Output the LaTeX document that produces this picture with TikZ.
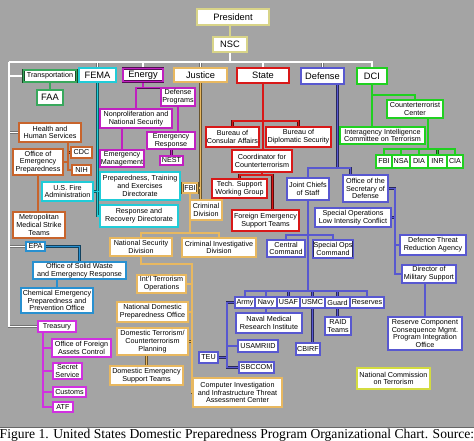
\documentclass[tikz,border=0pt]{standalone}
\usepackage{fontspec}
\setmainfont{Liberation Sans}
\newfontfamily\capfont{Liberation Serif}
\pgfdeclarelayer{paper}
\pgfdeclarelayer{wires}
\pgfsetlayers{paper,wires,main}
\newcommand\orgsmall{\fontsize{7.2}{7.8}\selectfont}
\newcommand\orgbig{\fontsize{9.3}{10}\selectfont}
\definecolor{olivebox}{HTML}{D8D488}
\definecolor{transgreen}{HTML}{38A85C}
\definecolor{femacyan}{HTML}{20CCD8}
\definecolor{energymag}{HTML}{C020C0}
\definecolor{treasmag}{HTML}{D030E0}
\definecolor{justicetan}{HTML}{E8B860}
\definecolor{statered}{HTML}{D81818}
\definecolor{defblue}{HTML}{5858D0}
\definecolor{dcigreen}{HTML}{20D020}
\definecolor{hhsbrown}{HTML}{C8642C}
\definecolor{epablue}{HTML}{2890D0}
\definecolor{commyellow}{HTML}{D4DC40}
\definecolor{chartgray}{HTML}{A4A4A4}

\begin{document}
\begin{tikzpicture}[
        x=1pt, y=-1pt, % pixel grid, y downwards
        unit/.style={draw=#1!45!black, double=#1, double distance=1.3pt, line width=.4pt,
                fill=white, inner sep=1pt, align=center, font=\orgsmall}, % boxes
        head/.style={unit=#1, font=\orgbig},
        sz/.style 2 args={minimum width=#1, minimum height=#2},
        wire/.style={draw=#1!45!black, double=#1, double distance=1.3pt, line width=.4pt},
    ]
    \useasboundingbox (0,0) rectangle (474,440);
    \begin{pgfonlayer}{paper}
        \fill[chartgray] (0,0) rectangle (474,427);
        \draw[black!60, line width=.6pt] (0,427) -- (474,427);
    \end{pgfonlayer}

    % top
    \node[head=olivebox, sz={72}{16}] (pres) at (233,17) {President};
    \node[head=olivebox, sz={34}{15}] (nsc) at (230,44.5) {NSC};
    \node[head=femacyan, sz={37}{14}] (fema) at (97.5,75) {FEMA};
    \node[head=energymag, sz={40}{13}] (energy) at (143,75) {Energy};
    \node[head=justicetan, sz={53}{14}] (justice) at (200.5,75) {Justice};
    \node[head=statered, sz={52}{15}] (state) at (263,75.5) {State};
    \node[head=defblue, sz={43}{16}] (defense) at (322.5,76) {Defense};
    \node[head=dcigreen, sz={30}{16}] (dci) at (372,76) {DCI};

    % left column
    \node[unit=transgreen, sz={53}{12}] (trans) at (50,76) {Transportation};
    \node[head=transgreen, sz={26}{15}] (faa) at (50,97.5) {FAA};
    \node[unit=hhsbrown, sz={62}{19}] (hhs) at (50,132.5) {Health and\\Human Services};
    \node[unit=hhsbrown, sz={50}{26}] (oep) at (38,162) {Office of\\Emergency\\Preparedness};
    \node[unit=hhsbrown, sz={21}{11}] (cdc) at (81.5,152.5) {CDC};
    \node[unit=hhsbrown, sz={19}{10}] (nih) at (81.5,170) {NIH};
    \node[unit=hhsbrown, sz={52}{26}] (mmst) at (39,225) {Metropolitan\\Medical Strike\\Teams};
    \node[unit=femacyan, sz={51}{19}] (usfa) at (67.5,191.5) {U.S. Fire\\Administration};
    \node[unit=femacyan, sz={80}{28}] (ptx) at (140,186) {Preparedness, Training\\and Exercises\\Directorate};
    \node[unit=femacyan, sz={78}{22}] (resp) at (139,216) {Response and\\Recovery Directorate};
    \node[unit=epablue, sz={19}{9}] (epa) at (35.5,246.5) {EPA};
    \node[unit=epablue, sz={93}{17}] (osw) at (79.5,270.5) {Office of Solid Waste\\and Emergency Response};
    \node[unit=epablue, sz={72}{25}] (ceppo) at (57,300.5) {Chemical Emergency\\Preparedness and\\Prevention Office};
    \node[unit=treasmag, sz={38}{11}] (treas) at (57,326.5) {Treasury};
    \node[unit=treasmag, sz={59}{18}] (ofac) at (81.5,348) {Office of Foreign\\Assets Control};
    \node[unit=treasmag, sz={29}{16}] (ss) at (67.5,371) {Secret\\Service};
    \node[unit=treasmag, sz={33}{10}] (customs) at (69.5,392) {Customs};
    \node[unit=treasmag, sz={20}{10}] (atf) at (63,407) {ATF};

    % energy
    \node[unit=energymag, sz={34}{18}] (dp) at (178,97) {Defense\\Programs};
    \node[unit=energymag, sz={72}{19}] (nonp) at (136,118.5) {Nonproliferation and\\National Security};
    \node[unit=energymag, sz={48}{17}] (er) at (171,140.5) {Emergency\\Response};
    \node[unit=energymag, sz={44}{17}] (em) at (122,158.5) {Emergency\\Management};
    \node[unit=energymag, sz={23}{9}] (nest) at (171.5,160.5) {NEST};

    % justice
    \node[unit=justicetan, sz={15}{10}] (fbi) at (190,188) {FBI};
    \node[unit=justicetan, sz={32}{20}] (crimdiv) at (206,210) {Criminal\\Division};
    \node[unit=justicetan, sz={62}{18}] (nsd) at (141,247) {National Security\\Division};
    \node[unit=justicetan, sz={74}{19}] (cid) at (219,247.5) {Criminal Investigative\\Division};
    \node[unit=justicetan, sz={49}{18}] (ito) at (161.5,284) {Int'l Terrorism\\Operations};
    \node[unit=justicetan, sz={71}{20}] (ndpo) at (152.5,312) {National Domestic\\Preparedness Office};
    \node[unit=justicetan, sz={71}{27}] (dtcp) at (152.5,341.5) {Domestic Terrorism/\\Counterterrorism\\Planning};
    \node[unit=justicetan, sz={73}{19}] (dest) at (146.5,375.5) {Domestic Emergency\\Support Teams};
    \node[unit=justicetan, sz={89}{29}] (ci) at (237.5,392.5) {Computer Investigation\\and Infrastructure Threat\\Assessment Center};

    % state
    \node[unit=statered, sz={53}{20}] (bca) at (232.5,137) {Bureau of\\Consular Affairs};
    \node[unit=statered, sz={65}{20}] (bds) at (298.5,137) {Bureau of\\Diplomatic Security};
    \node[unit=statered, sz={60}{22}] (cfc) at (262,161) {Coordinator for\\Counterterrorism};
    \node[unit=statered, sz={55}{19}] (tswg) at (239.5,188.5) {Tech. Support\\Working Group};
    \node[unit=statered, sz={67}{21}] (fest) at (265.5,220.5) {Foreign Emergency\\Support Teams};

    % defense
    \node[unit=defblue, sz={42}{22}] (jcs) at (308,189) {Joint Chiefs\\of Staff};
    \node[unit=defblue, sz={45}{27}] (osd) at (365.5,188.5) {Office of the\\Secretary of\\Defense};
    \node[unit=defblue, sz={76}{19}] (solic) at (353,217.5) {Special Operations\\Low Intensity Conflict};
    \node[unit=defblue, sz={66}{20}] (dtra) at (433,245) {Defence Threat\\Reduction Agency};
    \node[unit=defblue, sz={54}{18}] (dms) at (429,274) {Director of\\Military Support};
    \node[unit=defblue, sz={74}{33}] (rccm) at (425,333.5) {Reserve Component\\Consequence Mgmt.\\Program Integration\\Office};
    \node[unit=defblue, sz={38}{17}] (cc) at (286,248.5) {Central\\Command};
    \node[unit=defblue, sz={40}{18}] (soc) at (333,249) {Special Ops\\Command};
    \node[unit=defblue, sz={20}{11}] (army) at (245,302.5) {Army};
    \node[unit=defblue, sz={22}{11}] (navy) at (266,302.5) {Navy};
    \node[unit=defblue, sz={23}{11}] (usaf) at (288.5,302.5) {USAF};
    \node[unit=defblue, sz={25}{11}] (usmc) at (312.5,302.5) {USMC};
    \node[unit=defblue, sz={25}{11}] (guard) at (337.5,302.5) {Guard};
    \node[unit=defblue, sz={34}{11}] (reserves) at (367,302.5) {Reserves};
    \node[unit=defblue, sz={66}{20}] (nmri) at (269,323) {Naval Medical\\Research Institute};
    \node[unit=defblue, sz={40}{12}] (usamriid) at (258,346) {USAMRIID};
    \node[unit=defblue, sz={35}{11}] (sbccom) at (256.5,367.5) {SBCCOM};
    \node[unit=defblue, sz={19}{11}] (teu) at (208.5,357.5) {TEU};
    \node[unit=defblue, sz={24}{12}] (cbirf) at (308,349) {CBIRF};
    \node[unit=defblue, sz={26}{18}] (raid) at (338,326) {RAID\\Teams};

    % dci
    \node[unit=dcigreen, sz={56}{18}] (ctc) at (415,109) {Counterterrorist\\Center};
    \node[unit=dcigreen, sz={85}{17}] (iict) at (382.5,135.5) {Interagency Intelligence\\Committee on Terrorism};
    \node[unit=dcigreen, sz={16}{13}] (fbitwo) at (384,161.5) {FBI};
    \node[unit=dcigreen, sz={18}{13}] (nsa) at (401,161.5) {NSA};
    \node[unit=dcigreen, sz={18}{13}] (dia) at (419,161.5) {DIA};
    \node[unit=dcigreen, sz={19}{13}] (inr) at (437.5,161.5) {INR};
    \node[unit=dcigreen, sz={16}{13}] (cia) at (455,161.5) {CIA};

    \node[unit=commyellow, sz={73}{21}] (nct) at (393.5,378.5) {National Commission\\on Terrorism};

    \node[anchor=base west, inner sep=0pt, font=\capfont\fontsize{13.6}{15}\selectfont] (caption) at (-0.5,438.5)
        {Figure 1. United States Domestic Preparedness Program Organizational Chart. Source:};

    % junction points
    \coordinate (busL) at (9,62);
    \coordinate (hspine) at (68,141);
    \coordinate (tspine) at (43,331);
    \coordinate (jbus) at (190,233);
    \coordinate (jspine) at (192,264);
    \coordinate (sbus) at (263,121);
    \coordinate (cbus) at (262,175);
    \coordinate (dbus) at (337.5,168);
    \coordinate (jcsbus) at (308,235);
    \coordinate (svcbus) at (308,291);
    \coordinate (aspine) at (227,302.5);
    \coordinate (ospine) at (395,188.5);
    \coordinate (dcibus) at (372,95);
    \coordinate (abus) at (428,149);

    \begin{pgfonlayer}{wires}
        \draw[wire=olivebox] (nsc.north) -- (nsc.north |- pres.south);
        \draw[wire=white] (nsc.south) -- (nsc.south |- busL)
            (busL) -| (dci.north)
            (fema.north) -- (fema.north |- busL)
            (energy.north) -- (energy.north |- busL)
            (justice.north) -- (justice.north |- busL)
            (state.north) -- (state.north |- busL)
            (defense.north) -- (defense.north |- busL)
            (busL) |- (treas.west)
            (trans.west) -- (trans.west -| busL)
            (hhs.west) -- (hhs.west -| busL)
            (epa.west) -- (epa.west -| busL);
        \draw[wire=transgreen] (trans.south) -- (faa.north);
        \draw[wire=hhsbrown] (hspine) |- (nih.west)
            (cdc.west) -- (cdc.west -| hspine)
            (oep.east) -- (oep.east -| hspine)
            (oep.south) -- (oep.south |- mmst.north);
        \draw[wire=femacyan] (fema.south) |- (resp.west)
            (usfa.east) -- (ptx.west |- usfa.east);
        \draw[wire=epablue] (epa.east) -| (osw.north)
            (ceppo.north) -- (ceppo.north |- osw.south);
        \draw[wire=treasmag] (tspine) |- (atf.west)
            (ofac.west) -- (ofac.west -| tspine)
            (ss.west) -- (ss.west -| tspine)
            (customs.west) -- (customs.west -| tspine);
        \draw[wire=energymag] (energy.south) -- (energy.south |- dp.north)
            (nonp.north) |- (dp.north)
            (dp.south) -- (dp.south |- er.north)
            (nest.north) -- (nest.north |- er.south)
            (em.north) -- (em.north |- nonp.south);
        \draw[wire=justicetan] (justice.south) -- (justice.south |- crimdiv.north)
            (fbi.east) -- (fbi.east -| justice.south)
            (fbi.south) -- (jbus)
            (nsd.north) |- (jbus) -| (cid.north)
            (nsd.south) |- (jspine) |- (ci.west)
            (ito.east) -- (ito.east -| jspine)
            (ndpo.east) -- (ndpo.east -| jspine)
            (dtcp.east) -- (dtcp.east -| jspine)
            (dest.north) -- (dest.north |- dtcp.south);
        \draw[wire=statered] (state.south) -- (state.south |- cfc.north)
            (bca.north) |- (sbus) -| (bds.north)
            (cfc.south) -- (cbus)
            (tswg.north) |- (cbus) -| ([xshift=7pt]fest.north);
        \draw[wire=defblue] ([xshift=15pt]defense.south) -- (dbus)
            (jcs.north) |- (dbus) -| ([xshift=-15pt]osd.north)
            (jcs.south) -- (svcbus)
            (cc.north) |- (jcsbus) -| (soc.north)
            (army.north) |- (svcbus) -| (reserves.north)
            (navy.north) -- (navy.north |- svcbus)
            (usaf.north) -- (usaf.north |- svcbus)
            (usmc.north) -- (usmc.north |- svcbus)
            (guard.north) -- (guard.north |- svcbus)
            (army.west) -- (aspine) |- (sbccom.west)
            (usamriid.west) -- (usamriid.west -| aspine)
            (teu.east) -- (teu.east -| aspine)
            (navy.south) -- (navy.south |- nmri.north)
            (usmc.south) -- (usmc.south |- cbirf.north)
            (guard.south) -- (guard.south |- raid.north)
            (osd.east) -- (ospine) |- (dms.west)
            (solic.east) -- (solic.east -| ospine)
            (dtra.west) -- (dtra.west -| ospine)
            (rccm.north) -- (rccm.north |- dms.south);
        \draw[wire=dcigreen] (dci.south) -- (dci.south |- iict.north)
            (dcibus) -| (ctc.north)
            ([xshift=13pt]ctc.south) -- (abus)
            (fbitwo.north) |- (abus) -| (cia.north)
            (nsa.north) -- (nsa.north |- abus)
            (dia.north) -- (dia.north |- abus)
            (inr.north) -- (inr.north |- abus);
    \end{pgfonlayer}
\end{tikzpicture}
\end{document}
